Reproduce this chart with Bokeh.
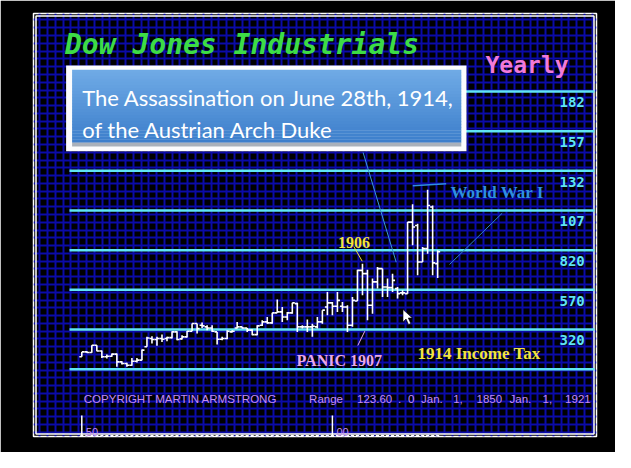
from bokeh.plotting import figure
from bokeh.models import Label, Grid, FixedTicker, Range1d
from bokeh.embed import file_html
from bokeh.resources import INLINE
from bokeh.core.properties import value

# ---------------- data ----------------
years = list(range(1850, 1922))
opens = [14.8, 17.9, 17.5, 22.1, 18.5, 14.8, 15.2, 16.5, 11.6, 10.6,
         9.5, 12.0, 12.7, 21.1, 26.3, 25.7, 26.3, 26.3, 26.9, 30.5,
         26.1, 27.4, 30.9, 35.8, 34.7, 33.7, 33.0, 30.5, 25.9, 26.3,
         30.5, 33.0, 33.7, 33.0, 31.6, 28.8, 34.7, 36.8, 36.2, 42.5,
         43.1, 39.9, 42.5, 48.3, 33.7, 33.7, 33.7, 33.7, 36.8, 46.2,
         48.8, 46.7, 46.7, 46.2, 34.7, 50.0, 69.3, 67.2, 47.3, 62.0,
         70.4, 58.8, 58.4, 57.8, 55.1, 54.6, 99.7, 97.6, 74.6, 83.0,
         109.2, 73.5]
highs = [17.9, 18.5, 22.1, 22.1, 18.8, 16.2, 16.9, 16.9, 12.0, 11.0,
         14.1, 14.1, 19.4, 27.4, 27.8, 27.4, 28.8, 27.4, 30.9, 30.9,
         28.4, 31.1, 35.8, 35.8, 36.4, 34.7, 34.7, 30.5, 27.4, 31.6,
         31.6, 36.8, 33.7, 33.0, 32.2, 34.7, 37.8, 39.9, 42.5, 50.9,
         46.2, 43.1, 48.8, 48.8, 34.7, 38.3, 35.7, 39.9, 44.2, 55.7,
         49.4, 55.7, 49.4, 47.3, 52.5, 69.7, 73.5, 69.7, 64.1, 71.4,
         70.4, 64.1, 67.2, 58.8, 56.7, 99.7, 110.9, 98.7, 84.0, 120.1,
         110.2, 81.9]
lows = [14.8, 17.3, 17.3, 18.3, 14.1, 13.7, 14.8, 8.5, 9.9, 8.5,
        9.1, 11.2, 12.7, 21.1, 23.2, 21.7, 24.2, 24.6, 26.3, 25.3,
        25.7, 26.9, 30.9, 29.5, 33.0, 31.6, 30.5, 22.5, 25.3, 25.9,
        30.1, 32.6, 32.6, 30.5, 28.4, 28.4, 34.3, 35.7, 35.7, 42.5,
        36.8, 37.8, 42.0, 30.5, 32.6, 30.5, 27.4, 32.6, 35.7, 41.0,
        41.0, 43.1, 43.1, 30.5, 33.7, 50.0, 53.6, 37.8, 42.0, 57.8,
        52.5, 52.5, 55.7, 51.5, 53.6, 54.6, 85.1, 66.2, 74.6, 79.8,
        66.2, 64.5]
closes = [17.9, 17.5, 22.1, 18.5, 14.8, 15.2, 16.5, 11.6, 10.6, 9.5,
          12.0, 12.7, 19.0, 26.7, 25.7, 26.3, 25.9, 26.9, 30.5, 25.7,
          27.4, 30.9, 35.8, 32.6, 34.3, 33.0, 30.9, 25.9, 26.3, 30.9,
          30.9, 33.7, 33.0, 31.6, 28.8, 34.3, 36.8, 36.2, 42.5, 43.1,
          39.9, 42.5, 48.8, 33.7, 33.7, 33.7, 34.1, 36.8, 44.2, 48.8,
          46.7, 50.4, 46.2, 34.7, 50.4, 69.3, 67.2, 47.3, 62.0, 70.4,
          58.8, 58.4, 63.0, 54.6, 55.1, 99.7, 96.6, 74.6, 83.0, 110.2,
          74.0, 81.0]

levels = [182, 157, 132, 107, 82, 57, 32, 7]
level_labels = ["182", "157", "132", "107", "820", "570", "320", ""]

marker_years = [1850, 1900]
marker_labels = ["50", "00"]

title_text = "Dow Jones Industrials"
period_text = "Yearly"
box_lines = ["The Assassination on June 28th, 1914,", "of the Austrian Arch Duke"]
copyright_text = "COPYRIGHT MARTIN ARMSTRONG"
range_parts = ["Range", "123.60", ".", "0", "Jan.", "1,", "1850", "Jan.", "1,", "1921"]

# ------------- pixel <-> data helpers (reference-image pixels) -------------
X1850, PX_YEAR = 81.3, 5.012
Y7, PX_UNIT = 368.7, 1.5869


def px_x(xr):
    return 1850 + (xr - X1850) / PX_YEAR


def px_y(yr):
    return 7 + (Y7 - yr) / PX_UNIT


FL, FT, FR, FB = 33, 13, 596, 436  # outer frame in reference pixels
W, H = 615, 452
OFF = 0

p = figure(width=W, height=H, output_backend="svg", toolbar_location=None,
           x_range=Range1d(px_x(FL), px_x(FR)), y_range=Range1d(px_y(FB), px_y(FT)),
           x_axis_type=None, y_axis_type=None,
           min_border_left=FL - OFF, min_border_top=FT - OFF,
           min_border_right=W - (FR - OFF), min_border_bottom=H - (FB - OFF))
p.background_fill_color = "black"
p.border_fill_color = "black"
p.outline_line_color = "white"
p.outline_line_width = 1.5

# background grid
GX0, GY0, GS = 62.7, 167.3, 7.78
xg = [px_x(GX0 + GS * k) for k in range(-5, 80) if 35 < GX0 + GS * k < 594]
yg = [px_y(GY0 + GS * k) for k in range(-25, 40) if 15 < GY0 + GS * k < 434]
for dim, ticks in ((0, xg), (1, yg)):
    p.add_layout(Grid(dimension=dim, ticker=FixedTicker(ticks=ticks),
                      grid_line_color="#0b0ba8", grid_line_width=2))

# inner border
p.quad(left=[px_x(35.5)], right=[px_x(593.5)], top=[px_y(15.5)], bottom=[px_y(433.5)],
       fill_color=None, line_color="white", line_width=1.5)

# horizontal level lines
cyan = "#5fe4f4"
p.segment(x0=px_x(69), y0=levels, x1=px_x(594), y1=levels, line_color=cyan, line_width=2.5)
lab_off = 10.7 / PX_UNIT
p.text(x=px_x(559), y=[lv - lab_off for lv in levels], text=level_labels,
       text_font=value("DejaVu Sans Mono"), text_font_size=value("14px"),
       text_font_style=value("bold"), text_color=cyan, text_baseline="alphabetic")

# OHLC bars
tick = 0.5
p.segment(x0=years, y0=lows, x1=years, y1=highs, line_color="white", line_width=1.6)
p.segment(x0=[y - tick for y in years], y0=opens, x1=years, y1=opens, line_color="white", line_width=1.6)
p.segment(x0=years, y0=closes, x1=[y + tick for y in years], y1=closes, line_color="white", line_width=1.6)

# bottom year ticks
by = px_y(435.2)
p.segment(x0=[y - 0.3 for y in years], y0=by, x1=[y + 0.3 for y in years], y1=by,
          line_color="white", line_width=1.2)
p.segment(x0=marker_years, y0=px_y(415), x1=marker_years, y1=px_y(436), line_color="white", line_width=1.5)
violet = "#c48cf2"
p.text(x=[m + (4.0 / PX_YEAR) for m in marker_years], y=px_y(431), text=marker_labels,
       text_font=value("Liberation Sans"), text_font_size=value("11px"), text_color=violet,
       text_baseline="alphabetic")

# text box
p.quad(left=[px_x(65.6)], right=[px_x(466)], top=[px_y(65)], bottom=[px_y(150.7)],
       fill_color="#fbfcfd", line_color=None)
p.quad(left=[px_x(71.6)], right=[px_x(460.8)], top=[px_y(141.7)], bottom=[px_y(146)],
       fill_color="#a9b1bb", line_color=None)
n = 24
top_c, bot_c = (0x70, 0xab, 0xe6), (0x3c, 0x7e, 0xcb)
t0, t1 = 69.3, 141.7
cols, tops, bots = [], [], []
for i in range(n):
    f = (i + 0.5) / n
    c = tuple(int(round(a + (b - a) * f)) for a, b in zip(top_c, bot_c))
    cols.append("#%02x%02x%02x" % c)
    tops.append(px_y(t0 + (t1 - t0) * i / n))
    bots.append(px_y(t0 + (t1 - t0) * (i + 1) / n + 0.3))
p.quad(left=px_x(71.6), right=px_x(460.8), top=tops, bottom=bots, fill_color=cols, line_color=None)


def lab(text, xr, yr, size, color, font, style="normal", align="left"):
    p.add_layout(Label(x=px_x(xr), y=px_y(yr), text=text, text_font=font,
                       text_font_size=f"{size}px", text_color=color, text_font_style=style,
                       text_align=align, text_baseline="alphabetic"))


lab(box_lines[0], 81.7, 96.7, 22, "white", "Lato")
lab(box_lines[1], 81.7, 129.3, 22, "white", "Lato")

# titles
lab(title_text, 64.5, 43.5, 28, "#3ddc45", "DejaVu Sans Mono", "bold italic")
lab(period_text, 485, 64.5, 23, "#f27ad9", "DejaVu Sans Mono", "bold")

# copyright line
lab(copyright_text, 83.3, 398.3, 11.5, violet, "Liberation Sans")
range_x = [308.6, 356.5, 397.5, 407.6, 420.5, 452.7, 476, 509, 542, 564.6]
for t, xr in zip(range_parts, range_x):
    lab(t, xr, 398.3, 11.5, violet, "Liberation Sans")

# annotations
yellow = "#f2e440"
pink = "#eaa8e8"
blue = "#2f8fe0"
lab("1906", 337.5, 241.5, 16, yellow, "Liberation Serif", "bold")
lab("PANIC 1907", 296, 359.5, 16, pink, "Liberation Serif", "bold")
lab("World War I", 450, 191.5, 17, blue, "Liberation Serif", "bold")
lab("1914 Income Tax", 417, 352.5, 17, yellow, "Liberation Serif", "bold")


def seg(x0, y0, x1, y1, color, w=1.0):
    p.segment(x0=[px_x(x0)], y0=[px_y(y0)], x1=[px_x(x1)], y1=[px_y(y1)], line_color=color, line_width=w)


seg(353.3, 246, 361.7, 260.7, yellow)
seg(357.3, 345, 364.3, 330.7, pink)
seg(412.3, 185.3, 445.7, 183.3, blue, 1.5)
seg(362.6, 152, 395.7, 261.7, "#3a9ad9")
seg(449, 264, 501.7, 212.7, "#2f7fd0")

# mouse cursor
cur = [(402.5, 309), (402.5, 321.5), (405.5, 318.5), (408, 324), (410.3, 323), (407.8, 317.5), (411.8, 317.5)]
p.patch(x=[px_x(a) for a, b in cur], y=[px_y(b) for a, b in cur], fill_color="white", line_color="black", line_width=0.6)

open("out.html", "w").write(file_html(p, INLINE))
